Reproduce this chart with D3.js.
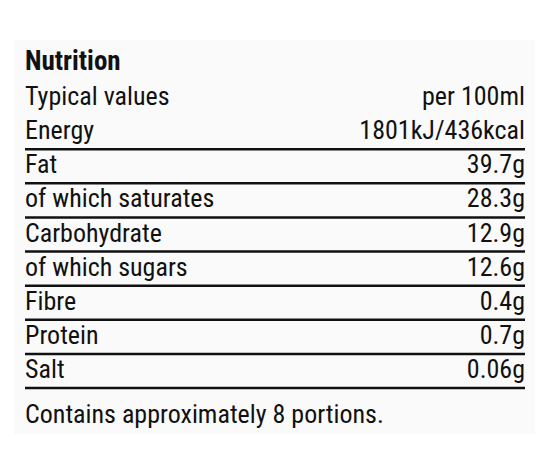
<!DOCTYPE html><html><head><script src="https://cdn.jsdelivr.net/npm/d3@7"></script>
<style>body{margin:0;background:#fff}</style></head><body><svg id="c" width="550" height="471"></svg>
<script>
const title="Nutrition";
const header=["Typical values","per 100ml"];
const nutrients=["Energy","Fat","of which saturates","Carbohydrate","of which sugars","Fibre","Protein","Salt"];
const amounts=["1801kJ/436kcal","39.7g","28.3g","12.9g","12.6g","0.4g","0.7g","0.06g"];
const footer="Contains approximately 8 portions.";
const svg=d3.select("#c");
const font="'Liberation Sans Narrow','Arial Narrow','Roboto Condensed',sans-serif";
svg.append("rect").attr("x",14).attr("y",40).attr("width",521).attr("height",394).attr("fill","#fafafa");
const rows=[header[0],...nutrients];
const y=d3.scaleLinear().domain([0,rows.length]).range([81,388]);
const L=25,R=525;
svg.append("text").attr("x",L).attr("y",70).text(title).attr("font-family",font).attr("font-weight","bold").attr("font-size",27).attr("fill","#111");
const g=svg.append("g").attr("font-family",font).attr("font-size",26).attr("fill","#111");
rows.forEach((r,i)=>{
  g.append("text").attr("x",L).attr("y",y(i+1)-10).text(r);
  g.append("text").attr("x",R).attr("y",y(i+1)-10).attr("text-anchor","end").text(i==0?header[1]:amounts[i-1]);
  if(i>=1) svg.append("line").attr("x1",L).attr("x2",R).attr("y1",y(i+1)).attr("y2",y(i+1)).attr("stroke","#111").attr("stroke-width",2.5);
});
g.append("text").attr("x",L).attr("y",423).text(footer);
</script></body></html>
